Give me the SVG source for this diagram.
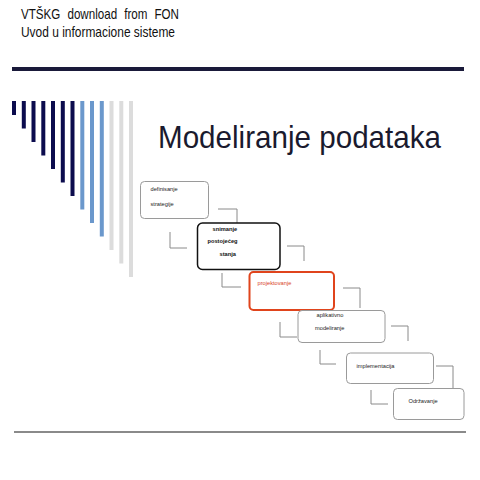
<svg xmlns="http://www.w3.org/2000/svg" width="480" height="480" viewBox="0 0 480 480">
<style>
.hdr{font-family:"Liberation Sans",Arial,sans-serif;font-size:15px;fill:#111}
.title{font-family:"Liberation Sans",Arial,sans-serif;font-size:31.5px;fill:#1a1a2e}
.t{font-family:"Liberation Sans",Arial,sans-serif;font-size:5.7px;fill:#222}
.tb{font-family:"Liberation Sans",Arial,sans-serif;font-size:5.7px;font-weight:bold;fill:#111}
.tr{font-family:"Liberation Sans",Arial,sans-serif;font-size:5.7px;fill:#d8431f}
.box{fill:#fff;stroke:#9a9a9a;stroke-width:1}
.conn{fill:none;stroke:#8a8a8a;stroke-width:1}
.dk{fill:#0c0c4e}
.bl{fill:#6b98cc}
.gr{fill:#dcdcdc}
</style>
<rect width="480" height="480" fill="#fff"/>
<text class="hdr" x="21" y="18.5" word-spacing="5" textLength="158" lengthAdjust="spacingAndGlyphs">VTŠKG download from FON</text>
<text class="hdr" x="21" y="36.7" textLength="154" lengthAdjust="spacingAndGlyphs">Uvod u informacione sisteme</text>
<rect x="12" y="67" width="452" height="4" fill="#1a1a3a"/>
<g id="bars">
<rect class="dk" x="12" y="101" width="4" height="14"/>
<rect class="dk" x="21.8" y="101" width="4" height="27.5"/>
<rect class="dk" x="31.5" y="101" width="4" height="41"/>
<rect class="dk" x="41.3" y="101" width="4" height="54.5"/>
<rect class="dk" x="51" y="101" width="4" height="68"/>
<rect class="dk" x="60.8" y="101" width="4" height="81.5"/>
<rect class="dk" x="70.5" y="101" width="4" height="95"/>
<rect class="bl" x="80.3" y="101" width="4" height="108.5"/>
<rect class="bl" x="90" y="101" width="4" height="122"/>
<rect class="bl" x="99.8" y="101" width="4" height="135.5"/>
<rect class="gr" x="109.5" y="101" width="4" height="149"/>
<rect class="gr" x="119.3" y="101" width="4" height="162.5"/>
<rect class="gr" x="129" y="101" width="4" height="176"/>
</g>
<text class="title" x="158" y="147.5" textLength="283" lengthAdjust="spacingAndGlyphs">Modeliranje podataka</text>
<g id="connectors">
<polyline class="conn" points="218,209 237,209 237,223"/>
<polyline class="conn" points="170,232 170,248 187,248"/>
<polyline class="conn" points="287,246 304,246 304,261"/>
<polyline class="conn" points="222,273 222,287 241,287"/>
<polyline class="conn" points="343,288 360,288 360,308"/>
<polyline class="conn" points="280,322 280,337 297,337"/>
<polyline class="conn" points="391,326 408,326 408,341"/>
<polyline class="conn" points="320,350 320,364 336,364"/>
<polyline class="conn" points="436,366 453,366 453,388"/>
<polyline class="conn" points="371,390 371,404 388,404"/>
</g>
<g id="n1">
<rect class="box" x="140.5" y="181.5" width="68" height="37" rx="4"/>
<text class="t" x="150.5" y="191">definisanje</text>
<text class="t" x="150.5" y="206">strategije</text>
</g>
<g id="n2">
<rect x="197.5" y="223" width="82.5" height="46.5" rx="5" fill="#fff" stroke="#111" stroke-width="1.5"/>
<text class="tb" x="212.5" y="231">snimanje</text>
<text class="tb" x="207.5" y="242.5">postojećeg</text>
<text class="tb" x="219.5" y="256">stanja</text>
</g>
<g id="n3">
<rect x="249.5" y="272" width="84.5" height="38" rx="4" fill="#fff" stroke="#e0441c" stroke-width="2"/>
<text class="tr" x="257.5" y="284.5">projektovanje</text>
</g>
<g id="n4">
<rect class="box" x="298" y="310.5" width="87" height="32" rx="4"/>
<text class="t" x="316.5" y="317">aplikativno</text>
<text class="t" x="315" y="330">modeliranje</text>
</g>
<g id="n5">
<rect class="box" x="346.5" y="353" width="87" height="30.5" rx="4"/>
<text class="t" x="356.5" y="367.5">implementacija</text>
</g>
<g id="n6">
<rect class="box" x="393.5" y="388.5" width="70.5" height="31" rx="4"/>
<text class="t" x="408.5" y="403">Održavanje</text>
</g>
<rect x="14" y="431" width="452" height="2" fill="#8a8a8a"/>
</svg>
